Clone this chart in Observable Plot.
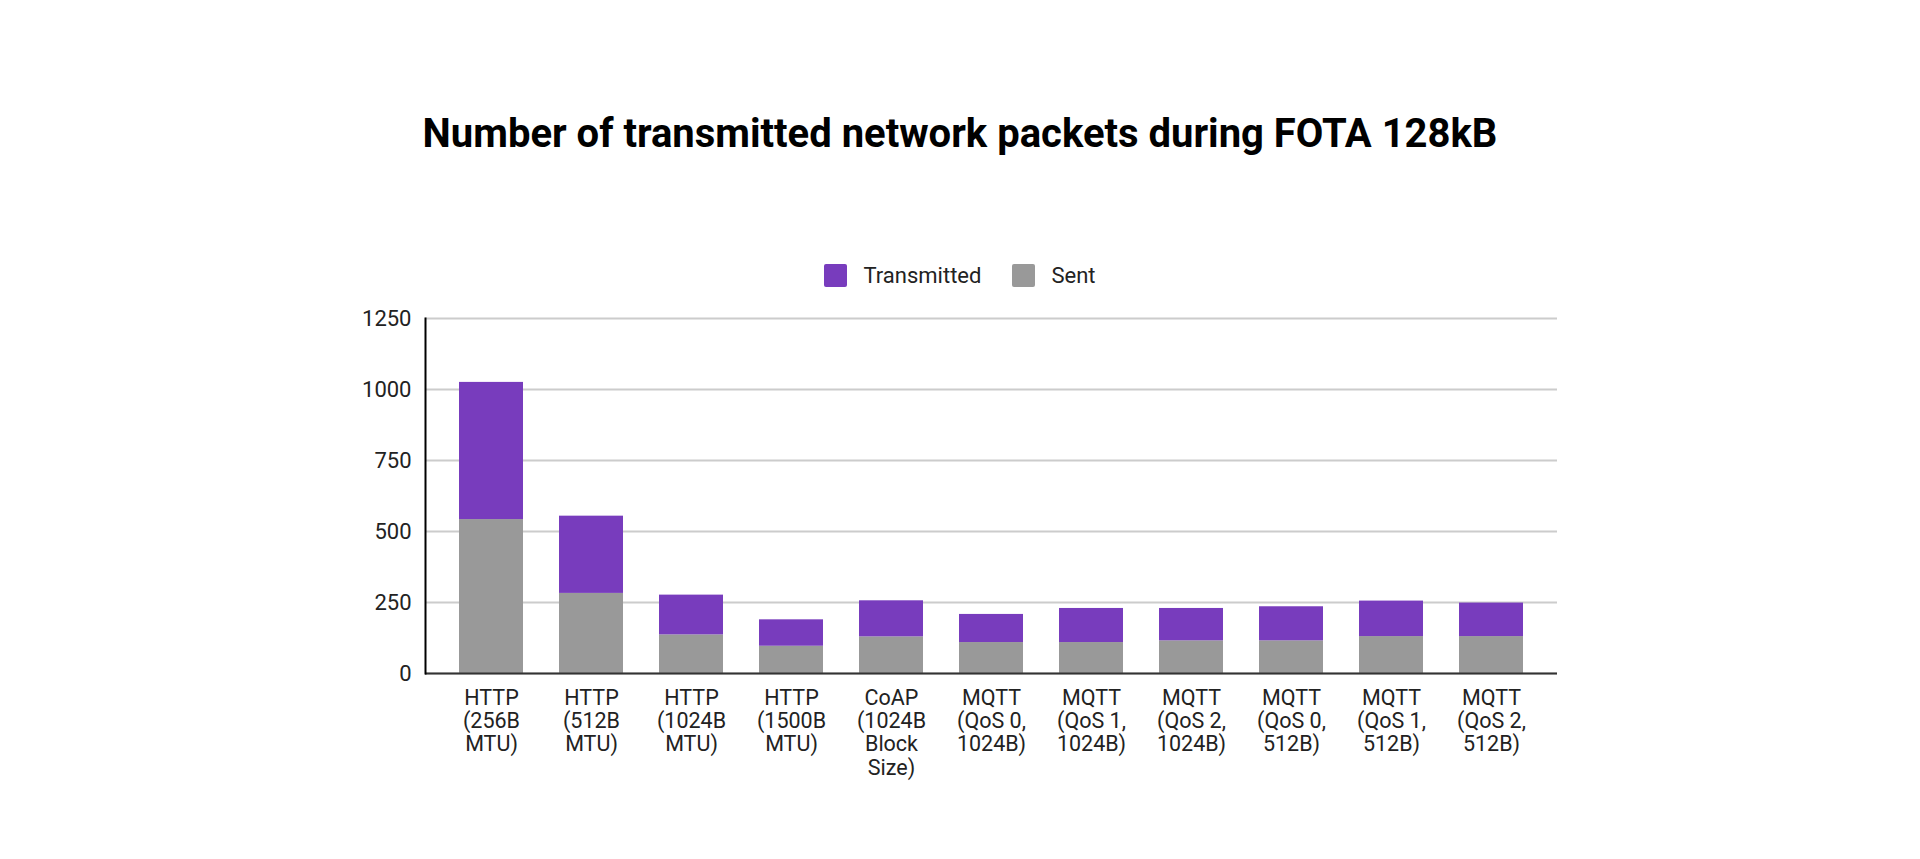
<!DOCTYPE html>
<html>
<head>
<meta charset="utf-8">
<script src="https://cdn.jsdelivr.net/npm/d3@7"></script>
<script src="https://cdn.jsdelivr.net/npm/@observablehq/plot@0.6"></script>
<style>
  html, body { margin: 0; padding: 0; background: #fff; }
  #wrap { position: relative; width: 1920px; height: 859px; font-family: Roboto, sans-serif; }
  #title { position: absolute; left: 0; width: 1920px; top: 114px; text-align: center; font-size: 40px; line-height: 1; font-weight: 700; color: #000; }
  #legend { position: absolute; left: 0; width: 1920px; top: 264px; height: 23px; display: flex; justify-content: center; align-items: center; font-size: 22px; color: #222; }
  .sw { width: 23px; height: 23px; border-radius: 2px; display: inline-block; }
  .item { display: flex; align-items: center; }
  #chart { position: absolute; left: 0; top: 300px; }
</style>
</head>
<body>
<div id="wrap">
  <div id="title">Number of transmitted network packets during FOTA 128kB</div>
  <div id="legend"></div>
  <div id="chart"></div>
</div>
<script>
const categories = [
  "HTTP\n(256B\nMTU)",
  "HTTP\n(512B\nMTU)",
  "HTTP\n(1024B\nMTU)",
  "HTTP\n(1500B\nMTU)",
  "CoAP\n(1024B\nBlock\nSize)",
  "MQTT\n(QoS 0,\n1024B)",
  "MQTT\n(QoS 1,\n1024B)",
  "MQTT\n(QoS 2,\n1024B)",
  "MQTT\n(QoS 0,\n512B)",
  "MQTT\n(QoS 1,\n512B)",
  "MQTT\n(QoS 2,\n512B)"
];
const sent =        [542, 282, 136, 96, 129, 109, 109, 115, 115, 130, 130];
const transmitted = [483, 272, 140, 93, 127,  99, 120, 114, 120, 125, 118];
const seriesNames = ["Transmitted", "Sent"];
const seriesColors = ["#783cbd", "#999999"];
const yTicks = [0, 250, 500, 750, 1000, 1250];

const rows = [];
categories.forEach((c, i) => {
  rows.push({category: c, series: "Sent", value: sent[i]});
  rows.push({category: c, series: "Transmitted", value: transmitted[i]});
});

// legend
const legend = document.getElementById("legend");
seriesNames.forEach((name, i) => {
  const item = document.createElement("div");
  item.className = "item";
  item.style.marginRight = i === 0 ? "31px" : "0";
  const sw = document.createElement("span");
  sw.className = "sw";
  sw.style.background = seriesColors[i];
  const t = document.createElement("span");
  t.textContent = name;
  t.style.marginLeft = "16px";
  item.appendChild(sw);
  item.appendChild(t);
  legend.appendChild(item);
});

const chart = Plot.plot({
  width: 1920,
  height: 483,
  marginLeft: 425,
  marginRight: 363,
  marginTop: 18,
  marginBottom: 110,
  style: {fontFamily: "Roboto, sans-serif", color: "#222", background: "#fff"},
  x: {domain: categories, paddingInner: 0.36, paddingOuter: 0.34, label: null},
  y: {domain: [0, 1250], label: null},
  color: {domain: seriesNames, range: seriesColors},
  marks: [
    Plot.gridY(yTicks, {stroke: "#cccccc", strokeOpacity: 1, strokeWidth: 2}),
    Plot.barY(rows, {x: "category", y: "value", fill: "series", order: ["Sent", "Transmitted"]}),
    Plot.ruleY([0], {stroke: "#333", strokeWidth: 2}),
    Plot.frame({anchor: "left", stroke: "#000", strokeWidth: 2}),
    Plot.axisY(yTicks, {tickSize: 0, tickPadding: 14, fontSize: 22, label: null, tickFormat: d => String(d)}),
    Plot.axisX({tickSize: 0, tickPadding: 15, fontSize: 21.5, lineHeight: 1.08, label: null})
  ]
});
document.getElementById("chart").appendChild(chart);
</script>
</body>
</html>
